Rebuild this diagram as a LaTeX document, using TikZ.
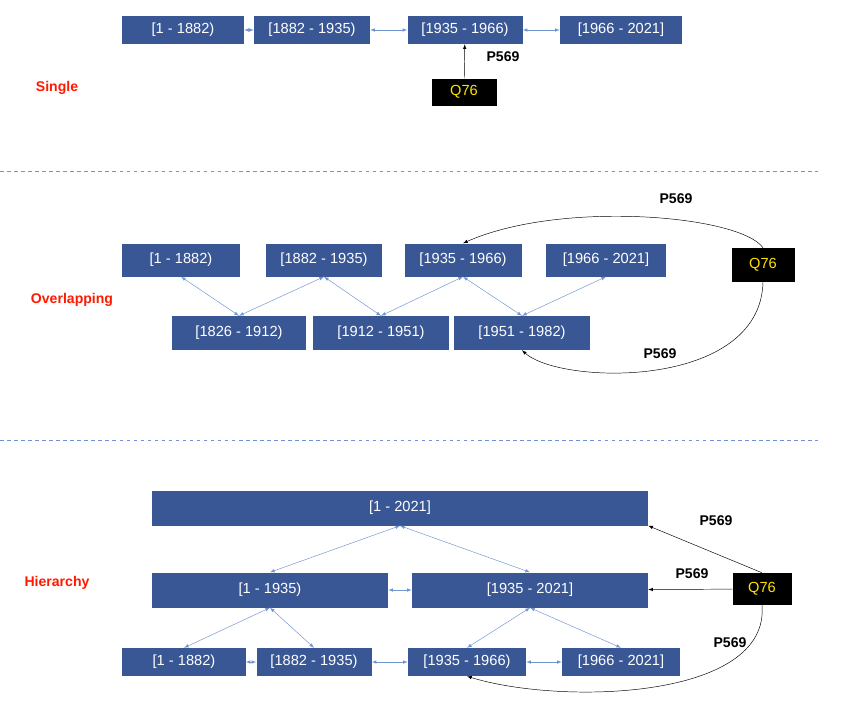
\documentclass[tikz,border=0pt]{standalone}
\usepackage{fontspec}
\setmainfont{Liberation Sans}
\begin{document}
\begin{tikzpicture}[x=0.03cm,y=-0.03cm,
  bx/.style={fill=boxblue,text=white,inner sep=0,font=\fontsize{12.5}{14}\selectfont},
  qb/.style={fill=black,text=yellow!85!orange,inner sep=0,font=\fontsize{12.5}{14}\selectfont},
  la/.style={<->,>=latex,draw=lblue,thin},
  ka/.style={->,>=latex,black},
  lab/.style={font=\bfseries\fontsize{12}{14}\selectfont},
  sec/.style={text=red!80!orange,font=\bfseries\fontsize{12}{14}\selectfont},
  dl/.style={dashed,draw=lblue}]
\definecolor{boxblue}{HTML}{3A5795}
\definecolor{lblue}{HTML}{6F94D0}
\useasboundingbox (0,0) rectangle (846,721);
\newcommand{\bb}[6]{\node[#6,minimum width={(#3-#2)*0.03cm},minimum height={(#5-#4)*0.03cm}] (#1) at ({(#2+#3)/2},{(#4+#5)/2}) {};}
% Single
\node[bx,minimum width=3.66cm,minimum height=0.84cm] (s1) at (183,30) {[1 - 1882)};
\node[bx,minimum width=3.48cm,minimum height=0.84cm] (s2) at (312,30) {[1882 - 1935)};
\node[bx,minimum width=3.45cm,minimum height=0.84cm] (s3) at (465,30) {[1935 - 1966)};
\node[bx,minimum width=3.66cm,minimum height=0.84cm] (s4) at (621,30) {[1966 - 2021]};
\node[qb,minimum width=1.95cm,minimum height=0.81cm] (sq) at (464,92) {Q76};
\draw[la] (s1) -- (s2); \draw[la] (s2) -- (s3); \draw[la] (s3) -- (s4);
\draw[ka] (sq) -- (s3);
\node[lab] (sl) at (503,57) {P569};
\node[sec] (single) at (57,88) {Single};
\draw[dl] (0,171) coordinate (d1a) -- (818,171) coordinate (d1b);
% Overlapping
\node[bx,minimum width=3.54cm,minimum height=0.99cm] (o1) at (181,260) {[1 - 1882)};
\node[bx,minimum width=3.48cm,minimum height=0.99cm] (o2) at (324,260) {[1882 - 1935)};
\node[bx,minimum width=3.51cm,minimum height=0.99cm] (o3) at (463,260) {[1935 - 1966)};
\node[bx,minimum width=3.60cm,minimum height=0.99cm] (o4) at (606,260) {[1966 - 2021]};
\node[bx,minimum width=4.02cm,minimum height=1.02cm] (o5) at (239,333) {[1826 - 1912)};
\node[bx,minimum width=4.08cm,minimum height=1.02cm] (o6) at (381,333) {[1912 - 1951)};
\node[bx,minimum width=4.08cm,minimum height=1.02cm] (o7) at (522,333) {[1951 - 1982)};
\node[qb,minimum width=1.89cm,minimum height=1.02cm] (oq) at (763,265) {Q76};
\draw[la] (o1.south) -- (o5.north); \draw[la] (o2.south) -- (o5.north);
\draw[la] (o2.south) -- (o6.north); \draw[la] (o3.south) -- (o6.north);
\draw[la] (o3.south) -- (o7.north); \draw[la] (o4.south) -- (o7.north);
\draw[ka] (oq.north) .. controls (740,215) and (560,200) .. (o3.north);
\draw[ka] (oq.south) .. controls (760,390) and (560,385) .. (o7.south);
\node[lab] (ol1) at (676,199) {P569};
\node[lab] (ol2) at (660,354) {P569};
\node[sec] (over) at (72,300) {Overlapping};
\draw[dl] (0,440) coordinate (d2a) -- (818,440) coordinate (d2b);
% Hierarchy
\node[bx,minimum width=14.88cm,minimum height=1.05cm] (h0) at (400,508) {[1 - 2021]};
\node[bx,minimum width=7.08cm,minimum height=1.05cm] (h1) at (270,590) {[1 - 1935)};
\node[bx,minimum width=7.08cm,minimum height=1.05cm] (h2) at (530,590) {[1935 - 2021]};
\node[bx,minimum width=3.69cm,minimum height=0.84cm] (b1) at (184,662) {[1 - 1882)};
\node[bx,minimum width=3.45cm,minimum height=0.84cm] (b2) at (314,662) {[1882 - 1935)};
\node[bx,minimum width=3.54cm,minimum height=0.84cm] (b3) at (467,662) {[1935 - 1966)};
\node[bx,minimum width=3.54cm,minimum height=0.84cm] (b4) at (621,662) {[1966 - 2021]};
\node[qb,minimum width=1.77cm,minimum height=0.96cm] (hq) at (762,589) {Q76};
\draw[la] (h0.south) -- (h1.north); \draw[la] (h0.south) -- (h2.north);
\draw[la] (h1) -- (h2);
\draw[la] (h1.south) -- (b1.north); \draw[la] (h1.south) -- (b2.north);
\draw[la] (h2.south) -- (b3.north); \draw[la] (h2.south) -- (b4.north);
\draw[la] (b1) -- (b2); \draw[la] (b2) -- (b3); \draw[la] (b3) -- (b4);
\draw[ka] (hq.north) -- (h0.south east);
\draw[ka] (hq) -- (h2);
\draw[ka] (hq.south) .. controls (770,700) and (560,705) .. (b3.south);
\node[lab] (hl1) at (716,521) {P569};
\node[lab] (hl2) at (692,574) {P569};
\node[lab] (hl3) at (730,643) {P569};
\node[sec] (hier) at (57,583) {Hierarchy};
\end{tikzpicture}
\end{document}
